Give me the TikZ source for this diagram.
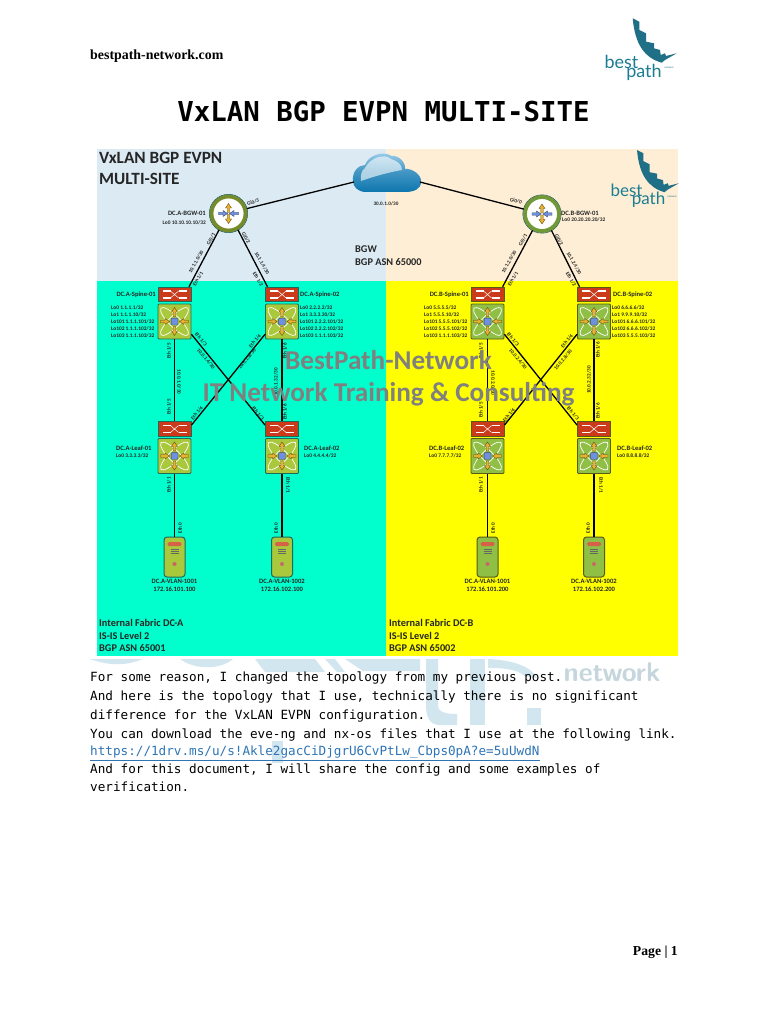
\documentclass[tikz,border=0pt]{standalone}
\usepackage{fontspec}
\setmainfont{Carlito}
\newfontfamily\codefont{DejaVu Sans Mono}
\newfontfamily\headfont{Liberation Serif}
\newfontfamily\logofont{Lato}
\definecolor{paleblue}{HTML}{DBEAF3}
\definecolor{palecream}{HTML}{FDEED5}
\definecolor{fabricA}{HTML}{00FFCC}
\definecolor{fabricB}{HTML}{FFFF00}
\definecolor{edgeA}{HTML}{1E6B5C}
\definecolor{edgeB}{HTML}{5A5A14}
\definecolor{nxA}{HTML}{A9C83C}
\definecolor{nxB}{HTML}{8FBF45}
\definecolor{swred}{HTML}{CC3A1C}
\definecolor{arrowyel}{HTML}{E8B12E}
\definecolor{hubblue}{HTML}{6F90E0}
\definecolor{logoteal}{HTML}{1F6F86}
\definecolor{wmark}{HTML}{D2E6EF}
\definecolor{wmarkword}{HTML}{C6D6DD}
\definecolor{cloudtop}{HTML}{A8D4EE}
\definecolor{cloudlow}{HTML}{0E76AE}
\definecolor{urlblue}{HTML}{2F75B5}
\newcommand{\fsz}[1]{\fontsize{#1}{#1}\selectfont}
% yellow arrow, pointing away from the origin along x
\newcommand{\outarrow}[1]{\draw[fill=#1,draw=black!60!#1,line width=.3] (5,-1.2)--(9.5,-1.2)--(9.5,-3)--(14,0)--(9.5,3)--(9.5,1.2)--(5,1.2)--cycle;}
% red switch cap
\newcommand{\switchcap}[4]{
	\node [swcap,draw=#4] (#1) at (#2,#3) {};
	\begin{scope}[shift={(#2,#3)}]
		\draw[white,line width=1.5] (-12,-3.4)--(-4,-3.4) (4,-3.4)--(12,-3.4) (-12,3.4)--(-4,3.4) (4,3.4)--(12,3.4);
		\draw[white,line width=.5] (-4,-3.4)--(4,3.4) (-4,3.4)--(4,-3.4);
	\end{scope}
}
% green box with the four petals
\newcommand{\nexusbody}[5]{
	\node [swbody,draw=#4,fill=#5] (#1) at (#2,#3) {};
	\begin{scope}[shift={(#2,#3)}]
		\draw[white,line width=.7,rotate=45] (0,0) ellipse [x radius=19,y radius=5.5];
		\draw[white,line width=.7,rotate=-45] (0,0) ellipse [x radius=19,y radius=5.5];
		\foreach \ang in {90,270} {\begin{scope}[rotate=\ang]\outarrow{arrowyel}\end{scope}}
		\foreach \ang in {0,180} {\begin{scope}[rotate=\ang,shift={(19,0)},rotate=180]\outarrow{arrowyel}\end{scope}}
		\fill[hubblue,draw=black!50!hubblue,line width=.3,rounded corners=1] (-3.4,-3.4) rectangle (3.4,3.4);
	\end{scope}
}
% round router
\newcommand{\router}[5]{
	\node [rtr,draw=#4,fill=#5] (#1) at (#2,#3) {};
	\draw[edgeA!80!black,line width=.5] (#2,#3) circle (19.2);
	\begin{scope}[shift={(#2,#3)}]
		\foreach \ang in {90,270} {\begin{scope}[rotate=\ang,shift={(-4,0)}]\outarrow{arrowyel}\end{scope}}
		\foreach \ang in {0,180} {\begin{scope}[rotate=\ang,shift={(15,0)},rotate=180]\outarrow{hubblue}\end{scope}}
	\end{scope}
}
% tower server
\newcommand{\server}[5]{
	\node [srv,draw=#4,fill=#5] (#1) at (#2,#3) {};
	\begin{scope}[shift={(#2,#3)}]
		\fill[swred!80!white,rounded corners=1.5] (-7,-15) rectangle (7,-11);
		\draw[black!60,line width=.5] (-4,-8)--(4,-8) (-4,-6)--(4,-6) (-4,-4)--(4,-4);
		\fill[swred!80!white,draw=black!40,line width=.3] (0,7) circle (2);
	\end{scope}
}
% feather of the logo
\newcommand{\feather}{\fill[logoteal] (0,0)--(6.6,3.4)--(6.6,11.7)--(13.3,15)--(13.3,23.4)--(21.3,25)--(21.3,30)--(27.3,31.7)--(28,36.7)--(32.3,35)--(33.3,37.7)--(44,35)--(32.3,41.7)--(29,44.4) .. controls (12.3,39.7) and (2.3,26.7) .. cycle;}
\begin{document}
\begin{tikzpicture}[
	x=1pt,y=-1pt,
	swcap/.style={rectangle,line width=.9,fill=swred,minimum width=33,minimum height=14.5,inner sep=0},
	swbody/.style={rectangle,line width=.9,rounded corners=1,minimum width=33,minimum height=35,inner sep=0},
	rtr/.style={circle,line width=3.8,inner sep=0,minimum size=34,fill=white},
	srv/.style={rectangle,line width=1,rounded corners=3,minimum width=21,minimum height=40,inner sep=0},
	link/.style={line width=1.3,black},
	devname/.style={font=\bfseries\fsz{6.6},inner sep=0,text=black!85},
	loline/.style={font=\bfseries\fsz{5.4},inner sep=0,text=black!85},
	portlbl/.style={font=\bfseries\fsz{5.2},inner sep=0,text=black!85},
	areatxt/.style={font=\bfseries\fsz{10.3},anchor=west,inner sep=0,text=black!85},
	bodytxt/.style={font=\codefont\fsz{12.65},anchor=west,inner sep=0},
	overtxt/.style={font=\bfseries\fsz{27.2},text=black!50,inner sep=0},
	]
	\useasboundingbox (0,0) rectangle (768,1024);
	\fill[white] (0,0) rectangle (768,1024);

	% faint page watermark
	\fill[wmark] (90,659) .. controls (110,666) and (125,666) .. (143,659) -- cycle;
	\fill[wmark] (180,659) .. controls (195,670) and (220,670) .. (233,659) -- cycle;
	\fill[wmark] (255,659) -- (265,672) -- (325,672) -- (315,659) -- cycle;
	\fill[wmark] (325,659) -- (337,672) -- (345,672) -- (335,659) -- cycle;
	\fill[wmark] (345,659) -- (363,671) -- (420,671) -- (420,659) -- cycle;
	\fill[wmark] (426,659) -- (438,659) -- (438,705) .. controls (438,712) and (445,714) .. (457,714) -- (457,725) -- (440,725) .. controls (430,725) and (426,718) .. (426,705) -- cycle;
	\fill[wmark] (470,659) rectangle (485,725);
	\fill[wmark] (488,659) .. controls (510,660) and (530,665) .. (537,678) -- (525,676) .. controls (515,668) and (500,668) .. (488,668) -- cycle;
	\fill[wmark] (527,708) rectangle (541,725);
	\fill[wmark] (272,741) rectangle (283,763);
	\node [font=\sffamily\bfseries\fsz{27},text=wmarkword,inner sep=0] (wmword) at (612,672) {network};

	% panels
	\fill[paleblue] (97,149) rectangle (386,281);
	\fill[palecream] (386,149) rectangle (678,281);
	\fill[fabricA] (97,281) rectangle (386,656);
	\fill[fabricB] (386,281) rectangle (678,656);

	% cloud
	\shade[top color=cloudtop,bottom color=cloudlow,middle color=cloudlow!65!cloudtop] (353,181)
		.. controls (352,172) and (358,165) .. (365,165)
		.. controls (368,156) and (382,150) .. (392,156)
		.. controls (398,155) and (406,162) .. (405,169)
		.. controls (412,168) and (422,175) .. (421,182)
		.. controls (421,189) and (414,192) .. (405,192)
		-- (366,192)
		.. controls (358,192) and (353,187) .. (353,181) -- cycle;
	\fill[white,opacity=.6] (365,168) .. controls (370,158) and (384,153) .. (391,159) .. controls (398,161) and (402,165) .. (402,170) .. controls (390,172) and (375,176) .. (361,181) .. controls (360,175) and (362,170) .. (365,168) -- cycle;
	\coordinate (cloudL) at (354,182);
	\coordinate (cloudR) at (420,182);

	% devices
	\router{bgwA}{228.5}{213.5}{nxA!70!black}{white}
	\router{bgwB}{542}{214}{nxB!80!black}{white}
	\foreach \nm/\xx/\edge/\body in {A1/174.5/edgeA/nxA,A2/282/edgeA/nxA,B1/487.5/edgeB/nxB,B2/594/edgeB/nxB} {
		\switchcap{spine\nm t}{\xx}{294.5}{\edge}
		\nexusbody{spine\nm}{\xx}{321.5}{\edge}{\body}
		\switchcap{leaf\nm t}{\xx}{429}{\edge}
		\nexusbody{leaf\nm}{\xx}{456}{\edge}{\body}
		\server{srv\nm}{\xx}{557}{\edge}{\body}
	}

	% connectors
	\draw[link] (bgwA.15) -- (cloudL);
	\draw[link] (bgwB.165) -- (cloudR);
	\draw[link] (bgwA.-120) -- (spineA1t.28);
	\draw[link] (bgwA.-60) -- (spineA2t.152);
	\draw[link] (bgwB.-120) -- (spineB1t.27);
	\draw[link] (bgwB.-60) -- (spineB2t.152);
	\foreach \nm in {A1,A2,B1,B2} {
		\draw[link] (spine\nm.south) -- (leaf\nm t.north);
		\draw[link] (leaf\nm.south) -- (srv\nm.north);
	}
	\draw[link] (spineA1.-37) -- (leafA2t.167);
	\draw[link] (spineA2.-143) -- (leafA1t.13);
	\draw[link] (spineB1.-37) -- (leafB2t.167);
	\draw[link] (spineB2.-143) -- (leafB1t.13);

	% link labels
	\foreach \xx/\yy/\ang/\txt [count=\ii] in {
		253/202/14/{Gi0/3},516/201/-14/{Gi0/0},386/204/0/{30.0.1.0/30},
		211/239/60/{Gi0/1},246/238/-62/{Gi0/2},196/262/60/{10.1.1.0/30},198/279/60/{Eth 1/1},262/263/-60/{10.1.1.4/30},258/279/-60/{Eth 1/2},
		523/240/60/{Gi0/1},559/240/-60/{Gi0/2},509/262/60/{10.1.2.0/30},513/279/60/{Eth 1/1},574/263/-60/{10.1.2.4/30},571/279/-60/{Eth 1/2},
		169/351/90/{Eth 1/5},179/382/-90/{10.0.1.0/30},169/407/90/{Eth 1/5},285/351/90/{Eth 1/6},276/382/90/{10.0.1.32/30},285/412/90/{Eth 1/6},
		201/339/-50/{Eth 1/3},206/359/-50/{10.0.1.4/30},255/341/50/{Eth 1/4},247/359/50/{10.0.1.8/30},197/413/50/{Eth 1/4},258/413/-50/{Eth 1/3},
		481/351/90/{Eth 1/5},493/383/-90/{10.0.2.0/30},481/410/90/{Eth 1/5},598/350/90/{Eth 1/6},589/380/90/{10.0.2.32/30},598/411/90/{Eth 1/6},
		513/339/-50/{Eth 1/3},518/359/-50/{10.0.2.4/30},567/341/50/{Eth 1/4},563/360/50/{10.0.2.8/30},509/415/50/{Eth 1/4},573/413/-50/{Eth 1/3},
		169/485/90/{Eth 1/1},180/528/90/{Eth 0},288/485/-90/{Eth 1/1},276/528/90/{Eth 0},
		481/485/90/{Eth 1/1},493/528/90/{Eth 0},601/485/-90/{Eth 1/1},588/528/90/{Eth 0}} {
		\node [portlbl,rotate=\ang] (port\ii) at (\xx,\yy) {\txt};
	}

	% device names
	\foreach \xx/\yy/\anc/\txt [count=\ii] in {
		206/213/east/DC.A-BGW-01,561/213/west/DC.B-BGW-01,
		156/294.5/east/DC.A-Spine-01,300/294.5/west/DC.A-Spine-02,469/294.5/east/DC.B-Spine-01,613/294.5/west/DC.B-Spine-02,
		116/448/west/DC.A-Leaf-01,304/448/west/DC.A-Leaf-02,429/448/west/DC.B-Leaf-02,617/448/west/DC.B-Leaf-02} {
		\node [devname,anchor=\anc] (name\ii) at (\xx,\yy) {\txt};
	}
	% loopbacks
	\foreach \xx/\yy/\anc/\txt [count=\ii] in {
		206/223/east/{Lo0 10.10.10.10/32},562/220/west/{Lo0 20.20.20.20/32},
		111/308/west/{Lo0 1.1.1.1/32},111/315/west/{Lo1 1.1.1.10/32},111/322/west/{Lo101 1.1.1.101/32},111/329/west/{Lo102 1.1.1.102/32},111/336/west/{Lo103 1.1.1.103/32},
		300/308/west/{Lo0 2.2.2.2/32},300/315/west/{Lo1 3.3.3.30/32},300/322/west/{Lo101 2.2.2.101/32},300/329/west/{Lo102 2.2.2.102/32},300/336/west/{Lo103 1.1.1.103/32},
		424/308/west/{Lo0 5.5.5.5/32},424/315/west/{Lo1 5.5.5.10/32},424/322/west/{Lo101 5.5.5.101/32},424/329/west/{Lo102 5.5.5.102/32},424/336/west/{Lo103 1.1.1.103/32},
		612/308/west/{Lo0 6.6.6.6/32},612/315/west/{Lo1 9.9.9.10/32},612/322/west/{Lo101 6.6.6.101/32},612/329/west/{Lo102 6.6.6.102/32},612/336/west/{Lo103 5.5.5.103/32},
		116/456/west/{Lo0 3.3.3.3/32},304/456/west/{Lo0 4.4.4.4/32},429/456/west/{Lo0 7.7.7.7/32},617/456/west/{Lo0 8.8.8.8/32}} {
		\node [loline,anchor=\anc] (lo\ii) at (\xx,\yy) {\txt};
	}
	% servers
	\foreach \xx/\nmtxt/\iptxt [count=\ii] in {174.5/DC.A-VLAN-1001/172.16.101.100,282/DC.A-VLAN-1002/172.16.102.100,487.5/DC.A-VLAN-1001/172.16.101.200,594/DC.A-VLAN-1002/172.16.102.200} {
		\node [devname] (host\ii) at (\xx,581) {\nmtxt};
		\node [devname] (hostip\ii) at (\xx,589.5) {\iptxt};
	}

	% area titles
	\node [font=\bfseries\fsz{17.2},anchor=west,inner sep=0,text=black!85] (titleA) at (99,158) {VxLAN BGP EVPN};
	\node [font=\bfseries\fsz{17.2},anchor=west,inner sep=0,text=black!85] (titleB) at (99,179) {MULTI-SITE};
	\node [areatxt] (bgwtxt) at (355,249) {BGW};
	\node [areatxt] (asntxt) at (355,262) {BGP ASN 65000};
	\foreach \xx/\site/\asn [count=\ii] in {99/A/65001,389/B/65002} {
		\node [areatxt] (fabric\ii) at (\xx,623) {Internal Fabric DC-\site};
		\node [areatxt] (level\ii) at (\xx,636) {IS-IS Level 2};
		\node [areatxt] (bgp\ii) at (\xx,648) {BGP ASN \asn};
	}

	% logo in the panel
	\begin{scope}[shift={(637,150)},scale=.95]
		\feather
	\end{scope}
	\node [font=\logofont\fsz{17},text=logoteal!90!cyan,inner sep=0] (bestB) at (626.5,190.5) {best};
	\node [font=\logofont\fsz{17},text=logoteal!90!cyan,inner sep=0] (pathB) at (648.5,200) {path};
	\node [font=\logofont\fsz{2.5},text=logoteal,inner sep=0] (netB) at (672,197) {network};

	% text over the panels
	\node [overtxt] (overA) at (388.5,360) {BestPath-Network};
	\node [overtxt] (overB) at (388.5,394) {IT Network Training \& Consulting};

	% page head
	\node [font=\headfont\bfseries\fsz{13.9},anchor=west,inner sep=0] (site) at (90,56) {bestpath-network.com};
	\node [font=\codefont\bfseries\fsz{27.4},inner sep=0] (pagetitle) at (383.5,112) {VxLAN BGP EVPN MULTI-SITE};
	\begin{scope}[shift={(632.7,18.3)}]
		\feather
	\end{scope}
	\node [font=\logofont\fsz{18},text=logoteal!90!cyan,inner sep=0] (bestL) at (621.5,62) {best};
	\node [font=\logofont\fsz{18},text=logoteal!90!cyan,inner sep=0] (pathL) at (644,72) {path};
	\node [font=\logofont\fsz{2.5},text=logoteal,inner sep=0] (netL) at (669,68) {network};

	% body text
	\node [bodytxt] (line1) at (90,678) {For some reason, I changed the topology from my previous post.};
	\node [bodytxt] (line2) at (90,697) {And here is the topology that I use, technically there is no significant};
	\node [bodytxt] (line3) at (90,716) {difference for the VxLAN EVPN configuration.};
	\node [bodytxt] (line4) at (90,735) {You can download the eve-ng and nx-os files that I use at the following link.};
	\node [bodytxt,text=urlblue] (line5) at (90,753) {\underline{https://1drv.ms/u/s!Akle2gacCiDjgrU6CvPtLw\_Cbps0pA?e=5uUwdN}};
	\node [bodytxt] (line6) at (90,770) {And for this document, I will share the config and some examples of};
	\node [bodytxt] (line7) at (90,787) {verification.};

	\node [font=\headfont\bfseries\fsz{13.7},anchor=east,inner sep=0] (pageno) at (678,952) {Page | 1};
\end{tikzpicture}
\end{document}
